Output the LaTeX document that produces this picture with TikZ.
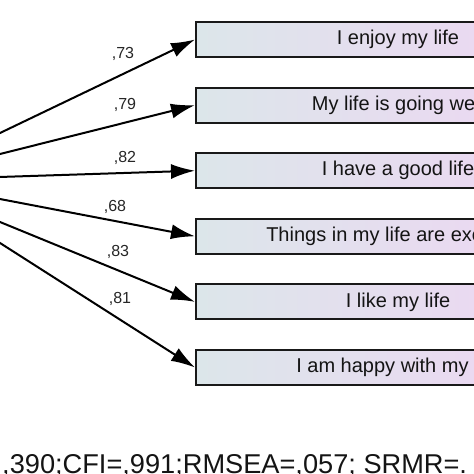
\documentclass[tikz,border=0pt]{standalone}
\usepackage{fontspec}
\setmainfont{Liberation Sans}
\usetikzlibrary{arrows.meta}
\definecolor{boxL}{RGB}{220,230,234}
\definecolor{boxR}{RGB}{240,212,244}
\definecolor{txt}{RGB}{20,20,20}
\tikzset{
  item/.style={draw=black!90, line width=2pt, rectangle, minimum width=404pt, minimum height=35pt,
    left color=boxL, right color=boxR, text=txt, font=\fontsize{20}{24}\selectfont, inner sep=0pt},
  load/.style={draw=black, line width=2pt, -{Latex[length=24pt,width=15pt]}},
  coef/.style={font=\fontsize{16}{19}\selectfont, text=black!85, inner sep=0pt},
  fit/.style={font=\fontsize{27.2}{32}\selectfont, text=txt, inner sep=0pt, anchor=base west}
}
\begin{document}
\begin{tikzpicture}[x=1pt,y=-1pt]
\useasboundingbox (0,0) rectangle (474,474);
\clip (0,0) rectangle (474,474);
\node[item] (b1) at (398,39.5) {I enjoy my life};
\node[item] (b2) at (398,105.1) {My life is going well};
\node[item] (b3) at (398,170.7) {I have a good life};
\node[item] (b4) at (398,236.3) {Things in my life are excellent};
\node[item] (b5) at (398,301.9) {I like my life};
\node[item] (b6) at (398,367.5) {I am happy with my life};
\coordinate (s1) at (-10,137.8);
\coordinate (s2) at (-10,156.5);
\coordinate (s3) at (-10,177.3);
\coordinate (s4) at (-10,197.1);
\coordinate (s5) at (-10,217.9);
\coordinate (s6) at (-10,236.6);
\draw[load] (s1) -- (b1.west);
\draw[load] (s2) -- (b2.west);
\draw[load] (s3) -- (b3.west);
\draw[load] (s4) -- (b4.west);
\draw[load] (s5) -- (b5.west);
\draw[load] (s6) -- (b6.west);
\node[coef] (c1) at (123,54) {,73};
\node[coef] (c2) at (125,105) {,79};
\node[coef] (c3) at (125,158) {,82};
\node[coef] (c4) at (115,207) {,68};
\node[coef] (c5) at (118,252) {,83};
\node[coef] (c6) at (120,299) {,81};
\node[fit] (fitidx) at (2,473) {,390;CFI=,991;RMSEA=,057; SRMR=.};
\end{tikzpicture}
\end{document}
